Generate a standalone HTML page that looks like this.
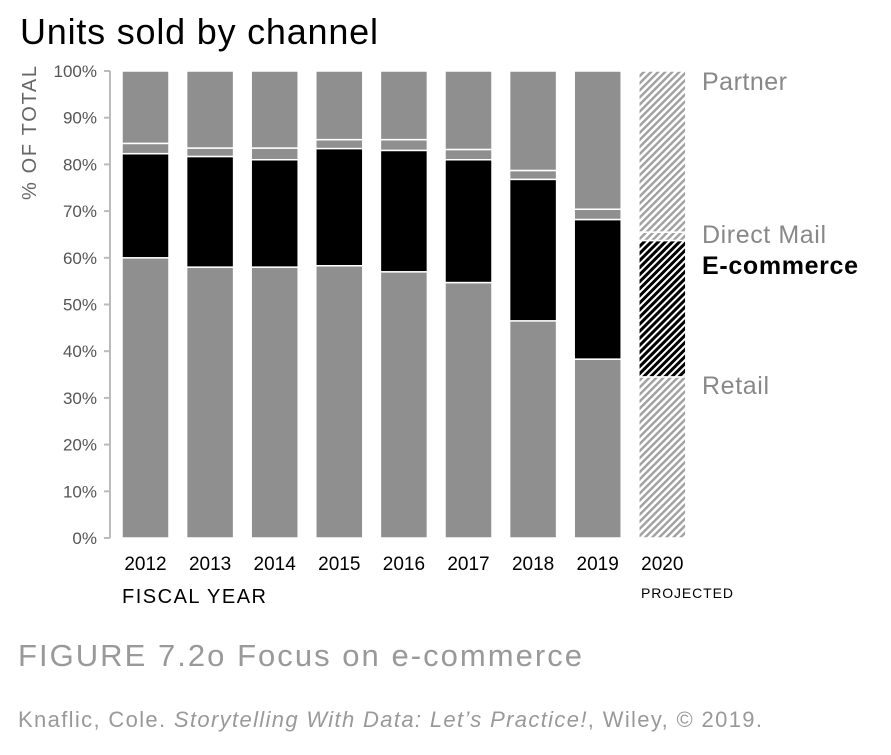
<!DOCTYPE html>
<html><head><meta charset="utf-8"><style>
body{margin:0;background:#fff;width:891px;height:750px;overflow:hidden;font-family:"Liberation Sans",sans-serif;}
</style></head><body>
<svg width="891" height="750" xmlns="http://www.w3.org/2000/svg" font-family="Liberation Sans, sans-serif">
<defs>
<pattern id="hg" patternUnits="userSpaceOnUse" width="5" height="5" patternTransform="rotate(45)">
<rect width="5" height="5" fill="#fff"/><rect width="2.4" height="5" fill="#a0a0a0"/></pattern>
<pattern id="hb" patternUnits="userSpaceOnUse" width="5" height="5" patternTransform="rotate(45)">
<rect width="5" height="5" fill="#fff"/><rect width="3" height="5" fill="#000"/></pattern>
</defs>
<text x="20" y="44" font-size="36" fill="#000" textLength="358">Units sold by channel</text>
<text transform="translate(36,200) rotate(-90)" font-size="20" fill="#666" textLength="134">% OF TOTAL</text>
<line x1="110" y1="71" x2="110" y2="538" stroke="#bbb" stroke-width="2"/>
<g id="ticks" stroke="#bbb" stroke-width="2"></g>
<g id="yl" font-size="17" fill="#555" text-anchor="end"></g>
<g id="bars"></g>
<g font-size="19" fill="#000" text-anchor="middle" id="xl"></g>
<text x="122" y="603" font-size="20" fill="#000" textLength="144">FISCAL YEAR</text>
<text x="641" y="598" font-size="14" fill="#000" textLength="92">PROJECTED</text>
<text x="702" y="90" font-size="25" fill="#888" textLength="85">Partner</text>
<text x="702" y="243" font-size="25" fill="#888" textLength="124">Direct Mail</text>
<text x="702" y="274" font-size="25" fill="#000" font-weight="bold" textLength="156">E-commerce</text>
<text x="702" y="394" font-size="25" fill="#888" textLength="67">Retail</text>
<text x="18" y="666" font-size="31" fill="#999" textLength="564">FIGURE 7.2o  Focus on e-commerce</text>
<text x="18" y="727" font-size="22" fill="#999" textLength="744">Knaflic, Cole. <tspan font-style="italic">Storytelling With Data: Let’s Practice!</tspan>, Wiley, © 2019.</text>
</svg>
<script>
const ns="http://www.w3.org/2000/svg";
function el(p,t,a,txt){const e=document.createElementNS(ns,t);for(const k in a)e.setAttribute(k,a[k]);if(txt)e.textContent=txt;document.getElementById(p).appendChild(e);}
const Y=p=>538-p*4.67;
for(let i=0;i<=10;i++){el("ticks","line",{x1:104,x2:110,y1:Y(i*10),y2:Y(i*10)});el("yl","text",{x:97,y:Y(i*10)+6},(i*10)+"%");}
const d=[[60,82.3,84.5],[58,81.7,83.5],[58,81,83.5],[58.3,83.4,85.3],[57,83,85.3],[54.7,81,83.2],[46.5,76.8,78.7],[38.3,68.2,70.4],[34.5,63.7,65.5]];
d.forEach((v,i)=>{const x=122+i*64.6,w=47;const h=i==8;
const g=h?"url(#hg)":"#8f8f8f",b=h?"url(#hb)":"#000";
const segs=[[0,v[0],g],[v[0],v[1],b],[v[1],v[2],g],[v[2],100,g]];
segs.forEach(s=>{el("bars","rect",{x:x,y:Y(s[1]),width:w,height:Y(s[0])-Y(s[1]),fill:s[2],stroke:"#fff","stroke-width":1.5});});
el("xl","text",{x:x+w/2,y:570},String(2012+i));});
</script>
</body></html>
